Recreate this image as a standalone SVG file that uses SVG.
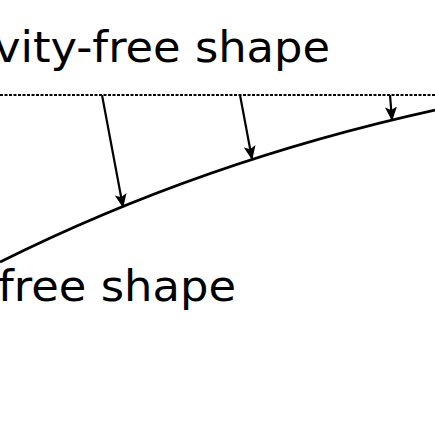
<svg xmlns="http://www.w3.org/2000/svg" width="435" height="435" viewBox="0 0 435 435">
<style>
.lbl{font-family:"DejaVu Sans","Liberation Sans",sans-serif;font-size:42px;fill:#000}
.arr{stroke:#000;stroke-width:2.2;fill:none;marker-end:url(#ah)}
</style>
<defs>
<marker id="ah" viewBox="0 0 14 12" refX="13" refY="6" markerWidth="14" markerHeight="12" markerUnits="userSpaceOnUse" orient="auto">
<path d="M0,0 L14,6 L0,12 L3,6 Z" fill="#000"/>
</marker>
</defs>
<rect width="435" height="435" fill="#fff"/>
<g id="top-label"><text class="lbl" x="-6" y="62" textLength="336" lengthAdjust="spacingAndGlyphs">vity-free shape</text></g>
<g id="bottom-label"><text class="lbl" x="-2" y="301" textLength="238" lengthAdjust="spacingAndGlyphs">free shape</text></g>
<g id="dashed-line"><line x1="0" y1="95" x2="435" y2="95" stroke="#000" stroke-width="2" stroke-dasharray="3,1.5"/></g>
<g id="curve"><path d="M0,262 Q201,161.5 435,110" stroke="#000" stroke-width="2.8" fill="none"/></g>
<g id="connectors">
<line class="arr" x1="102" y1="95" x2="123" y2="207"/>
<line class="arr" x1="240" y1="95" x2="252" y2="159"/>
<line class="arr" x1="390" y1="95" x2="392" y2="120"/>
</g>
</svg>
